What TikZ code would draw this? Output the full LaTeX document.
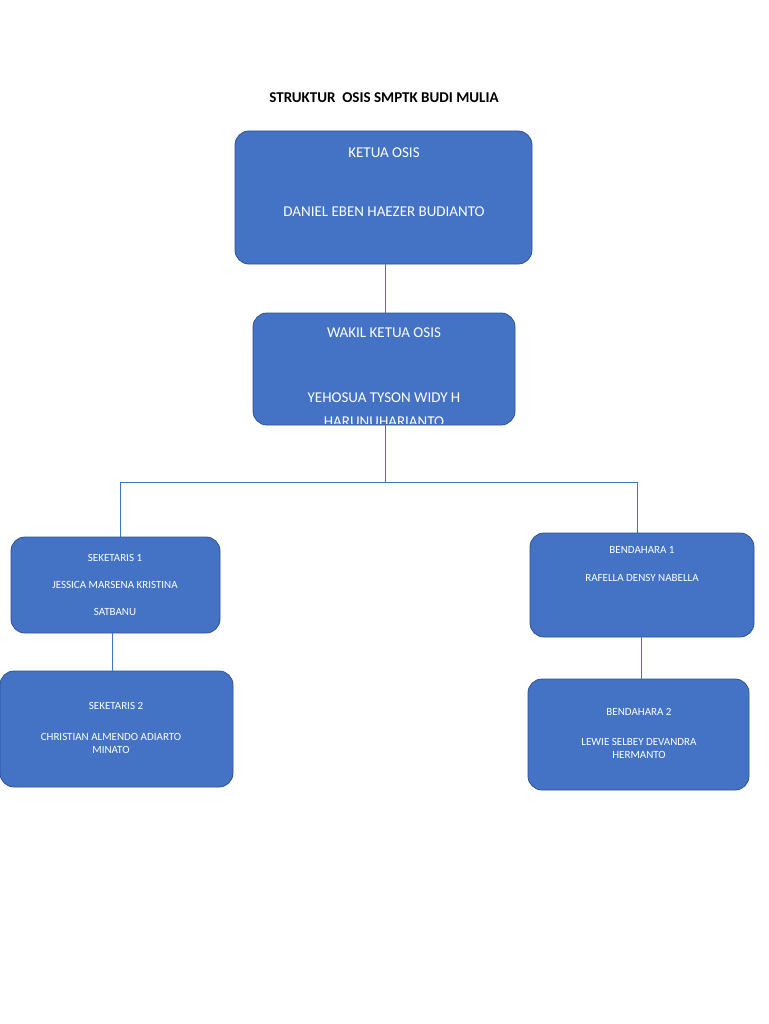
\documentclass[tikz,border=0pt]{standalone}
\usepackage{fontspec}
\setmainfont{Carlito}
\begin{document}
\begin{tikzpicture}[x=1pt,y=-1pt,
  box/.style={draw=bd,fill=bf,rounded corners=14pt,line width=0.8pt},
  big/.style={text=white,font=\fontsize{15}{18}\selectfont},
  sm/.style={text=white,font=\fontsize{11}{13}\selectfont,align=center},
  ln/.style={draw=lc,line width=0.8pt}]
\definecolor{bf}{HTML}{4472C4}\definecolor{bd}{HTML}{2F528F}\definecolor{lc}{HTML}{4472C4}
\useasboundingbox[fill=white] (0,0) rectangle (768,1024);
\node[font=\bfseries\fontsize{15}{18}\selectfont] (title) at (384,98) {STRUKTUR\ \ OSIS SMPTK BUDI MULIA};
\draw[box] (235,131) rectangle (532,264); \coordinate (k) at (383.5,197);
\node[big] (k1) at (384,153) {KETUA OSIS};
\node[big] (k2) at (384,212) {DANIEL EBEN HAEZER BUDIANTO};
\draw[box] (253,313) rectangle (515,425);
\node[big] (w1) at (384,333) {WAKIL KETUA OSIS};
\node[big] (w2) at (384,398) {YEHOSUA TYSON WIDY H};
\begin{scope}\clip (253,313) rectangle (515,423);
\node[big] (w3) at (384,422) {HARUNUHARIANTO};\end{scope}
\coordinate (kb) at (385,264); \coordinate (wt) at (385,313);
\coordinate (wb) at (385,425); \coordinate (hm) at (385,482);
\coordinate (hl) at (120,482); \coordinate (hr) at (637,482);
\coordinate (s1t) at (120,537); \coordinate (b1t) at (637,533);
\draw[ln] (kb)--(wt); \draw[ln] (wb)--(hm); \draw[ln] (hl)--(hr);
\draw[ln] (hl)--(s1t); \draw[ln] (hr)--(b1t);
\draw[box] (11,537) rectangle (220,633);
\node[sm] (s1a) at (115,558) {SEKETARIS 1};
\node[sm] (s1b) at (115,585) {JESSICA MARSENA KRISTINA};
\node[sm] (s1c) at (115,612) {SATBANU};
\draw[box] (0,671) rectangle (233,787);
\node[sm] (s2a) at (116,706) {SEKETARIS 2};
\node[sm] (s2b) at (111,743) {CHRISTIAN ALMENDO ADIARTO\\MINATO};
\coordinate (a1) at (112,633); \coordinate (a2) at (112,671);
\draw[ln] (a1)--(a2);
\draw[box] (530,533) rectangle (754,637);
\node[sm] (b1a) at (642,550) {BENDAHARA 1};
\node[sm] (b1b) at (642,578) {RAFELLA DENSY NABELLA};
\draw[box] (528,679) rectangle (749,790);
\node[sm] (b2a) at (639,712) {BENDAHARA 2};
\node[sm] (b2b) at (639,748) {LEWIE SELBEY DEVANDRA\\HERMANTO};
\coordinate (c1) at (641,637); \coordinate (c2) at (641,679);
\draw[ln] (c1)--(c2);
\end{tikzpicture}
\end{document}
